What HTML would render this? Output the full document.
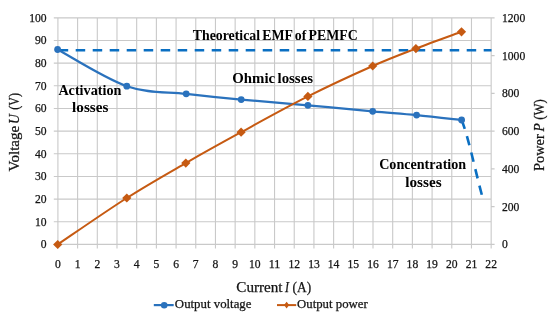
<!DOCTYPE html>
<html><head><meta charset="utf-8"><title>PEMFC polarization curve</title>
<style>
html,body{margin:0;padding:0;background:#fff;}
body{width:550px;height:316px;overflow:hidden;}
svg{display:block;font-family:"Liberation Serif",serif;}
</style></head><body>
<svg width="550" height="316" viewBox="0 0 550 316">
<rect width="550" height="316" fill="#fff"/>
<path d="M57.91,17.3 V248.6 M77.60,17.3 V248.6 M97.30,17.3 V248.6 M116.99,17.3 V248.6 M136.68,17.3 V248.6 M156.38,17.3 V248.6 M176.07,17.3 V248.6 M195.76,17.3 V248.6 M215.46,17.3 V248.6 M235.15,17.3 V248.6 M254.84,17.3 V248.6 M274.54,17.3 V248.6 M294.23,17.3 V248.6 M313.93,17.3 V248.6 M333.62,17.3 V248.6 M353.31,17.3 V248.6 M373.01,17.3 V248.6 M392.70,17.3 V248.6 M412.39,17.3 V248.6 M432.09,17.3 V248.6 M451.78,17.3 V248.6 M471.47,17.3 V248.6 M491.17,17.3 V248.6 M53.8,244.40 H491.67 M53.8,221.75 H491.67 M53.8,199.09 H491.67 M53.8,176.44 H491.67 M53.8,153.78 H491.67 M53.8,131.12 H491.67 M53.8,108.47 H491.67 M53.8,85.81 H491.67 M53.8,63.16 H491.67 M53.8,40.50 H491.67 M53.8,17.85 H491.67 M491.17,244.40 H494.6 M491.17,206.64 H494.6 M491.17,168.88 H494.6 M491.17,131.12 H494.6 M491.17,93.37 H494.6 M491.17,55.61 H494.6 M491.17,17.85 H494.6" stroke="#c9c9c9" stroke-width="1.1" fill="none"/>
<line x1="57.7" y1="50.2" x2="491.5" y2="50.2" stroke="#0a6fc2" stroke-width="2.6" stroke-dasharray="9.5 7.5" stroke-dashoffset="-1"/>
<path d="M461.6,120 C467.6,134 475.3,170.5 481.8,194.8" stroke="#0a6fc2" stroke-width="2.6" fill="none" stroke-dasharray="9.5 7.5"/>
<path d="M57.60,49.50 C69.13,55.62 105.37,78.82 126.80,86.20 C148.23,93.58 167.13,91.57 186.20,93.80 C205.27,96.03 220.92,97.68 241.20,99.60 C261.48,101.52 285.98,103.35 307.90,105.30 C329.82,107.25 354.58,109.67 372.70,111.30 C390.82,112.93 401.78,113.65 416.60,115.10 C431.42,116.55 454.10,119.18 461.60,120.00" stroke="#2a72bd" stroke-width="2.25" fill="none" stroke-linejoin="round"/>
<path d="M57.70,244.50 C69.22,236.75 105.45,211.57 126.80,198.00 C148.15,184.43 166.75,174.02 185.80,163.05 C204.85,152.08 220.75,143.31 241.10,132.20 C261.45,121.09 285.97,107.43 307.90,96.40 C329.83,85.37 354.70,73.97 372.70,66.00 C390.70,58.03 401.10,54.30 415.90,48.60 C430.70,42.90 453.90,34.60 461.50,31.80" stroke="#c65a12" stroke-width="2.0" fill="none" stroke-linejoin="round"/>
<circle cx="57.60" cy="49.50" r="3.4" fill="#2a72bd"/>
<circle cx="126.80" cy="86.20" r="3.4" fill="#2a72bd"/>
<circle cx="186.20" cy="93.80" r="3.4" fill="#2a72bd"/>
<circle cx="241.20" cy="99.60" r="3.4" fill="#2a72bd"/>
<circle cx="307.90" cy="105.30" r="3.4" fill="#2a72bd"/>
<circle cx="372.70" cy="111.30" r="3.4" fill="#2a72bd"/>
<circle cx="416.60" cy="115.10" r="3.4" fill="#2a72bd"/>
<circle cx="461.60" cy="120.00" r="3.4" fill="#2a72bd"/>
<path d="M57.70,239.90 L62.30,244.50 L57.70,249.10 L53.10,244.50 Z" fill="#c65a12"/>
<path d="M126.80,193.40 L131.40,198.00 L126.80,202.60 L122.20,198.00 Z" fill="#c65a12"/>
<path d="M185.80,158.45 L190.40,163.05 L185.80,167.65 L181.20,163.05 Z" fill="#c65a12"/>
<path d="M241.10,127.60 L245.70,132.20 L241.10,136.80 L236.50,132.20 Z" fill="#c65a12"/>
<path d="M307.90,91.80 L312.50,96.40 L307.90,101.00 L303.30,96.40 Z" fill="#c65a12"/>
<path d="M372.70,61.40 L377.30,66.00 L372.70,70.60 L368.10,66.00 Z" fill="#c65a12"/>
<path d="M415.90,44.00 L420.50,48.60 L415.90,53.20 L411.30,48.60 Z" fill="#c65a12"/>
<path d="M461.50,27.20 L466.10,31.80 L461.50,36.40 L456.90,31.80 Z" fill="#c65a12"/>
<g font-size="11.6" fill="#141414" stroke="#141414" stroke-width="0.25"><text x="46.60" y="248.30" text-anchor="end" textLength="5.80" lengthAdjust="spacingAndGlyphs">0</text><text x="46.60" y="225.65" text-anchor="end" textLength="11.60" lengthAdjust="spacingAndGlyphs">10</text><text x="46.60" y="202.99" text-anchor="end" textLength="11.60" lengthAdjust="spacingAndGlyphs">20</text><text x="46.60" y="180.34" text-anchor="end" textLength="11.60" lengthAdjust="spacingAndGlyphs">30</text><text x="46.60" y="157.68" text-anchor="end" textLength="11.60" lengthAdjust="spacingAndGlyphs">40</text><text x="46.60" y="135.03" text-anchor="end" textLength="11.60" lengthAdjust="spacingAndGlyphs">50</text><text x="46.60" y="112.37" text-anchor="end" textLength="11.60" lengthAdjust="spacingAndGlyphs">60</text><text x="46.60" y="89.72" text-anchor="end" textLength="11.60" lengthAdjust="spacingAndGlyphs">70</text><text x="46.60" y="67.06" text-anchor="end" textLength="11.60" lengthAdjust="spacingAndGlyphs">80</text><text x="46.60" y="44.40" text-anchor="end" textLength="11.60" lengthAdjust="spacingAndGlyphs">90</text><text x="46.60" y="21.75" text-anchor="end" textLength="17.40" lengthAdjust="spacingAndGlyphs">100</text><text x="502.00" y="248.30" textLength="5.80" lengthAdjust="spacingAndGlyphs">0</text><text x="502.00" y="210.54" textLength="17.40" lengthAdjust="spacingAndGlyphs">200</text><text x="502.00" y="172.78" textLength="17.40" lengthAdjust="spacingAndGlyphs">400</text><text x="502.00" y="135.03" textLength="17.40" lengthAdjust="spacingAndGlyphs">600</text><text x="502.00" y="97.27" textLength="17.40" lengthAdjust="spacingAndGlyphs">800</text><text x="502.00" y="59.51" textLength="23.20" lengthAdjust="spacingAndGlyphs">1000</text><text x="502.00" y="21.75" textLength="23.20" lengthAdjust="spacingAndGlyphs">1200</text><text x="57.91" y="267.50" text-anchor="middle" textLength="5.80" lengthAdjust="spacingAndGlyphs">0</text><text x="77.60" y="267.50" text-anchor="middle" textLength="5.80" lengthAdjust="spacingAndGlyphs">1</text><text x="97.30" y="267.50" text-anchor="middle" textLength="5.80" lengthAdjust="spacingAndGlyphs">2</text><text x="116.99" y="267.50" text-anchor="middle" textLength="5.80" lengthAdjust="spacingAndGlyphs">3</text><text x="136.68" y="267.50" text-anchor="middle" textLength="5.80" lengthAdjust="spacingAndGlyphs">4</text><text x="156.38" y="267.50" text-anchor="middle" textLength="5.80" lengthAdjust="spacingAndGlyphs">5</text><text x="176.07" y="267.50" text-anchor="middle" textLength="5.80" lengthAdjust="spacingAndGlyphs">6</text><text x="195.76" y="267.50" text-anchor="middle" textLength="5.80" lengthAdjust="spacingAndGlyphs">7</text><text x="215.46" y="267.50" text-anchor="middle" textLength="5.80" lengthAdjust="spacingAndGlyphs">8</text><text x="235.15" y="267.50" text-anchor="middle" textLength="5.80" lengthAdjust="spacingAndGlyphs">9</text><text x="254.84" y="267.50" text-anchor="middle" textLength="11.60" lengthAdjust="spacingAndGlyphs">10</text><text x="274.54" y="267.50" text-anchor="middle" textLength="11.60" lengthAdjust="spacingAndGlyphs">11</text><text x="294.23" y="267.50" text-anchor="middle" textLength="11.60" lengthAdjust="spacingAndGlyphs">12</text><text x="313.93" y="267.50" text-anchor="middle" textLength="11.60" lengthAdjust="spacingAndGlyphs">13</text><text x="333.62" y="267.50" text-anchor="middle" textLength="11.60" lengthAdjust="spacingAndGlyphs">14</text><text x="353.31" y="267.50" text-anchor="middle" textLength="11.60" lengthAdjust="spacingAndGlyphs">15</text><text x="373.01" y="267.50" text-anchor="middle" textLength="11.60" lengthAdjust="spacingAndGlyphs">16</text><text x="392.70" y="267.50" text-anchor="middle" textLength="11.60" lengthAdjust="spacingAndGlyphs">17</text><text x="412.39" y="267.50" text-anchor="middle" textLength="11.60" lengthAdjust="spacingAndGlyphs">18</text><text x="432.09" y="267.50" text-anchor="middle" textLength="11.60" lengthAdjust="spacingAndGlyphs">19</text><text x="451.78" y="267.50" text-anchor="middle" textLength="11.60" lengthAdjust="spacingAndGlyphs">20</text><text x="471.47" y="267.50" text-anchor="middle" textLength="11.60" lengthAdjust="spacingAndGlyphs">21</text><text x="491.17" y="267.50" text-anchor="middle" textLength="11.60" lengthAdjust="spacingAndGlyphs">22</text></g>
<g font-size="14.2"><g fill="#141414" stroke="#141414" stroke-width="0.25"><text id="cur1" x="236.34" y="291.70" textLength="46.21" lengthAdjust="spacingAndGlyphs">Current</text><text id="cur2" x="284.90" y="291.70" textLength="4.00" lengthAdjust="spacingAndGlyphs" font-style="italic">I</text><text id="cur3" x="292.58" y="291.70" textLength="18.53" lengthAdjust="spacingAndGlyphs">(A)</text><text id="volt1" transform="translate(18.90,171.42) rotate(-90)" textLength="45.60" lengthAdjust="spacingAndGlyphs">Voltage</text><text id="volt2" transform="translate(18.90,123.95) rotate(-90)" textLength="9.79" lengthAdjust="spacingAndGlyphs" font-style="italic">U</text><text id="volt3" transform="translate(18.90,109.69) rotate(-90)" textLength="16.58" lengthAdjust="spacingAndGlyphs">(V)</text><text id="pow1" transform="translate(543.50,170.97) rotate(-90)" textLength="36.68" lengthAdjust="spacingAndGlyphs">Power</text><text id="pow2" transform="translate(543.50,131.60) rotate(-90)" textLength="8.24" lengthAdjust="spacingAndGlyphs" font-style="italic">P</text><text id="pow3" transform="translate(543.50,119.86) rotate(-90)" textLength="20.64" lengthAdjust="spacingAndGlyphs">(W)</text></g></g>
<g font-weight="bold" fill="#000" word-spacing="-1.2"><text id="theo" x="192.76" y="40.00" textLength="164.98" lengthAdjust="spacingAndGlyphs" font-size="13.8">Theoretical EMF of PEMFC</text><text id="ohm" x="232.29" y="83.10" textLength="80.74" lengthAdjust="spacingAndGlyphs" font-size="13.8">Ohmic losses</text><text id="act" x="89.86" y="94.80" text-anchor="middle" textLength="62.97" lengthAdjust="spacingAndGlyphs" font-size="13.8">Activation</text><text id="act2" x="90.21" y="112.20" text-anchor="middle" textLength="36.16" lengthAdjust="spacingAndGlyphs" font-size="13.8">losses</text><text id="conc" x="422.67" y="169.30" text-anchor="middle" textLength="87.04" lengthAdjust="spacingAndGlyphs" font-size="13.8">Concentration</text><text id="conc2" x="423.39" y="186.90" text-anchor="middle" textLength="36.34" lengthAdjust="spacingAndGlyphs" font-size="13.8">losses</text></g>
<line x1="153.8" y1="305.1" x2="173.7" y2="305.1" stroke="#2a72bd" stroke-width="2.2"/><circle cx="164.2" cy="305.2" r="3.3" fill="#2a72bd"/><text id="leg1" x="174.86" y="308.40" textLength="76.62" lengthAdjust="spacingAndGlyphs" font-size="12.0" fill="#141414" stroke="#141414" stroke-width="0.25">Output voltage</text><line x1="277" y1="305.1" x2="296.2" y2="305.1" stroke="#c65a12" stroke-width="2.0"/><path d="M286.60,301.80 L289.20,305.10 L286.60,308.40 L284.00,305.10 Z" fill="#c65a12"/><text id="leg2" x="297.04" y="308.40" textLength="70.68" lengthAdjust="spacingAndGlyphs" font-size="12.0" fill="#141414" stroke="#141414" stroke-width="0.25">Output power</text>
</svg>
</body></html>
